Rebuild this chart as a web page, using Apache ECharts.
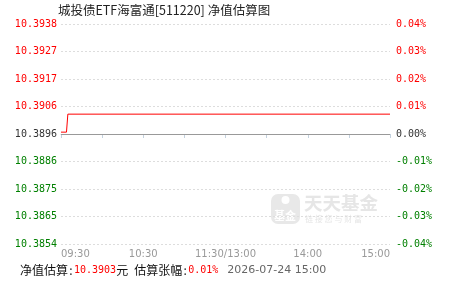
<!DOCTYPE html>
<html>
<head>
<meta charset="utf-8">
<script src="https://cdn.jsdelivr.net/npm/echarts@6/dist/echarts.min.js"></script>
<style>
html,body{margin:0;padding:0;background:#fff;}
#c{width:451px;height:281px;}
</style>
</head>
<body>
<div id="c"></div>
<script>
// ---- data ----
var titleText = '城投债ETF海富通[511220] 净值估算图';
var baseNav = 10.3896;                // previous NAV (0.00% line)
var xTickLabels = ['09:30', '', '10:30', '', '11:30/13:00', '', '14:00', '', '15:00'];
// minute index (0 = 09:30, 240 = 15:00) and estimated NAV
var pointMinutes = [0, 4, 5, 240];
var pointNav = [10.38967, 10.38967, 10.39035, 10.39035];
var estNav = '10.3903';
var estPct = '0.01%';
var estTime = '2026-07-24 15:00';

var seriesData = pointMinutes.map(function (m, i) {
  return [m, (pointNav[i] / baseNav - 1) * 100];
});

function colorFor(p) {
  if (p > 1e-9) return '#ff0000';
  if (p < -1e-9) return '#008000';
  return '#333333';
}

var chart = echarts.init(document.getElementById('c'), null, {renderer: 'canvas'});
var mono = '"DejaVu Sans Mono", monospace';
var cjk = '"Noto Sans CJK SC", sans-serif';
var sans = '"DejaVu Sans", sans-serif';

var option = {
  animation: false,
  color: ['#ff0000'],
  backgroundColor: '#ffffff',
  grid: {left: 61, right: 61, top: 24, bottom: 37, containLabel: false},
  xAxis: {
    type: 'value',
    min: 0, max: 240, interval: 30,
    axisLine: {show: true, lineStyle: {color: '#c4d2df', width: 1}},
    axisTick: {show: true, length: 4, inside: false, lineStyle: {color: '#c4d2df'}},
    splitLine: {show: false},
    axisLabel: {
      margin: 5,
      color: '#999999',
      fontFamily: sans,
      fontSize: 10,
      alignMinLabel: 'left',
      alignMaxLabel: 'right',
      formatter: function (v) { return xTickLabels[Math.round(v / 30)] || ''; }
    }
  },
  yAxis: [
    {
      type: 'value', position: 'left',
      min: -0.04, max: 0.04, interval: 0.01,
      axisLine: {show: false}, axisTick: {show: false},
      splitLine: {show: true, lineStyle: {color: '#dddddd', type: [2, 2], width: 1}},
      axisLabel: {
        margin: 4,
        fontFamily: mono, fontSize: 10,
        formatter: function (p) { return (baseNav * (1 + p / 100)).toFixed(4); },
        color: function (p) { return colorFor(Number(p)); }
      }
    },
    {
      type: 'value', position: 'right',
      min: -0.04, max: 0.04, interval: 0.01,
      axisLine: {show: false}, axisTick: {show: false},
      splitLine: {show: false},
      axisLabel: {
        margin: 6,
        fontFamily: mono, fontSize: 10,
        formatter: function (p) { return Number(p).toFixed(2) + '%'; },
        color: function (p) { return colorFor(Number(p)); }
      }
    }
  ],
  graphic: [
    {type: 'text', left: 58, top: 4, z: 10,
     style: {text: titleText, fill: '#222222', font: '12.5px ' + cjk}},
    // watermark
    {type: 'group', left: 271, top: 194, z: 0, silent: true, children: [
      {type: 'rect', shape: {x: 0, y: 0, width: 29, height: 30, r: 7}, style: {fill: '#e8e8e8'}},
      {type: 'circle', shape: {cx: 14.5, cy: 6, r: 4}, style: {fill: '#ffffff'}},
      {type: 'text', x: 3, y: 16, style: {text: '基金', fill: '#ffffff', font: 'bold 11px ' + cjk}},
      {type: 'text', x: 33, y: 0, style: {text: '天天基金', fill: '#e6e6e6', font: 'bold 18.5px ' + cjk}},
      {type: 'text', x: 34, y: 21, style: {text: '链 接 您 与 财 富', fill: '#e6e6e6', font: '8px ' + cjk}}
    ]},
    // bottom info line
    {type: 'text', left: 20, top: 264, z: 10,
     style: {
       text: '{k|净值估算}{c|:}{r|' + estNav + '}{k|元}{s| }{k|估算张幅}{c|:}{r|' + estPct + '}{t| }{d|' + estTime + '}',
       rich: {
         k: {fill: '#111111', font: '12px ' + cjk},
         c: {fill: '#111111', font: '12px ' + cjk, width: 6, align: 'center'},
         r: {fill: '#ff0000', font: '10px ' + mono},
         s: {font: '12px sans-serif', width: 6},
         t: {font: '12px sans-serif', width: 9},
         d: {fill: '#666666', font: '11px ' + sans}
       }
     }}
  ],
  series: [{
    type: 'line',
    yAxisIndex: 0,
    data: seriesData,
    showSymbol: false,
    symbol: 'none',
    itemStyle: {color: '#ff0000'},
    lineStyle: {color: '#ff0000', width: 1},
    z: 5,
    markLine: {
      silent: true,
      symbol: ['none', 'none'],
      label: {show: false},
      lineStyle: {color: '#999999', type: 'solid', width: 1},
      data: [{yAxis: 0}],
      z: 3
    }
  }]
};
chart.setOption(option);
</script>
</body>
</html>
